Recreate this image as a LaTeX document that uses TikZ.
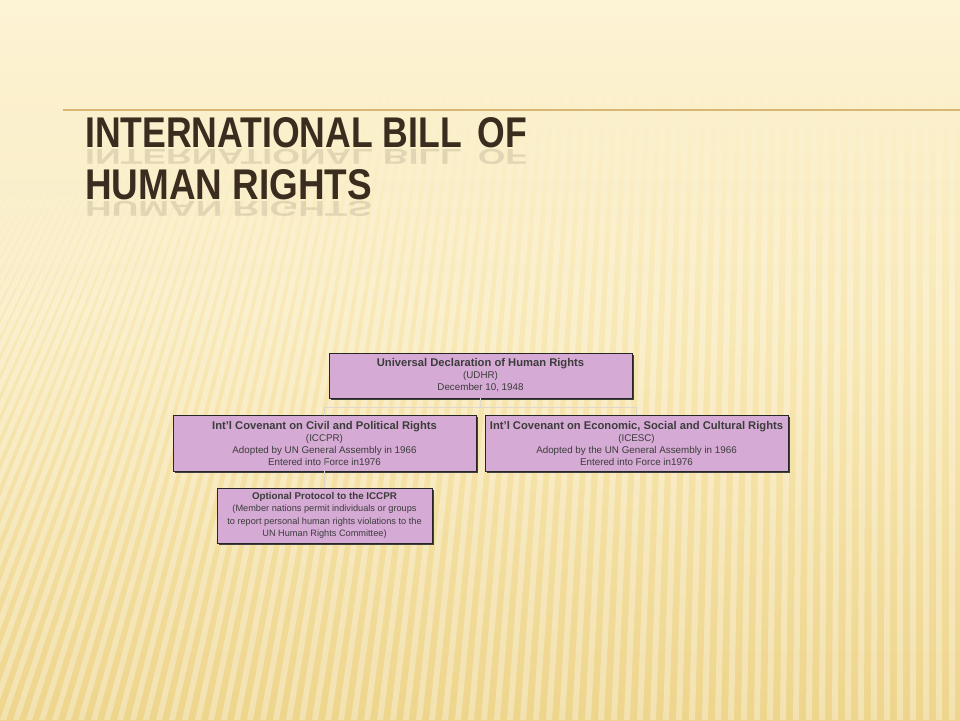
\documentclass[tikz,border=0pt]{standalone}
\usepackage{fontspec}
\setmainfont{Liberation Sans}
\usepackage{graphicx}
\usetikzlibrary{shadows,fadings}
\definecolor{bgtop}{RGB}{253,244,214}
\definecolor{bgmid}{RGB}{248,231,178}
\definecolor{bgbot}{RGB}{238,213,140}
\definecolor{boxfill}{RGB}{213,170,212}
\definecolor{boxtext}{RGB}{60,60,60}
\definecolor{titlecol}{RGB}{58,44,30}
\definecolor{rulecol}{RGB}{216,182,112}
\definecolor{linkcol}{RGB}{222,216,204}
\begin{document}
\begin{tikzpicture}[x=1pt,y=1pt,
  orgbox/.style={draw=black!85, line width=0.8pt, fill=boxfill, text=boxtext,
    align=center, inner sep=0pt, font=\fontsize{9.8}{12}\selectfont,
    drop shadow={shadow xshift=1.6pt, shadow yshift=-1.6pt, fill=black!75, opacity=1}},
  link/.style={draw=linkcol, line width=0.9pt},
  titletext/.style={anchor=base west, inner sep=0pt, text=titlecol},
  stripe/.style={fill=white, opacity=0.32},
]
\useasboundingbox (0,0) rectangle (960,720);
% background
\shade[top color=bgtop, bottom color=bgbot, middle color=bgmid] (0,0) rectangle (960,720);
\begin{scope}
\clip (0,0) rectangle (960,720);
\foreach \i in {-40,...,76}{
  \pgfmathsetmacro\xb{\i*13}
  \pgfmathsetmacro\sl{0.34*min(1.6,max(0,1-\xb/960))^2}
  \pgfmathsetmacro\xm{\xb + \sl*420}
  \pgfmathsetmacro\xt{\xb + \sl*640}
  \fill[stripe] (\xb,0) -- (\xb+6,0) -- (\xm+6,420) -- (\xm,420) -- cycle;
  \fill[stripe, path fading=north] (\xm,420) -- (\xm+6,420) -- (\xt+6,640) -- (\xt,640) -- cycle;
}
\end{scope}
% title rule
\draw[rulecol, line width=1.2pt] (63,610) -- (960,610);
% title
\node[titletext] (t1) at (85,572) {\resizebox{442pt}{30pt}{\bfseries\fontsize{40}{40}\selectfont INTERNATIONAL BILL\, OF}};
\node[titletext, yscale=-0.5, transform shape, opacity=0.13] (r1) at (85,570) {\resizebox{442pt}{30pt}{\bfseries\fontsize{40}{40}\selectfont INTERNATIONAL BILL\, OF}};
\node[titletext] (t2) at (85,520) {\resizebox{287pt}{30pt}{\bfseries\fontsize{40}{40}\selectfont HUMAN RIGHTS}};
\node[titletext, yscale=-0.5, transform shape, opacity=0.13] (r2) at (85,518) {\resizebox{287pt}{30pt}{\bfseries\fontsize{40}{40}\selectfont HUMAN RIGHTS}};
% boxes
\node[orgbox, minimum width=303pt, minimum height=45pt] (udhr) at (480.5,344.5)
  {{\bfseries\fontsize{11.2}{12}\selectfont Universal Declaration of Human Rights}\\(UDHR)\\December 10, 1948};
\node[orgbox, minimum width=303pt, minimum height=56pt] (iccpr) at (324.5,277)
  {{\bfseries\fontsize{11.2}{12}\selectfont Int'l Covenant on Civil and Political Rights}\\(ICCPR)\\Adopted by UN General Assembly in 1966\\Entered into Force in1976};
\node[orgbox, minimum width=303pt, minimum height=56pt] (icesc) at (636.5,277)
  {{\bfseries\fontsize{11.2}{12}\selectfont Int'l Covenant on Economic, Social and Cultural Rights}\\(ICESC)\\Adopted by the UN General Assembly in 1966\\Entered into Force in1976};
\node[orgbox, minimum width=215pt, minimum height=55pt, font=\fontsize{9.2}{12.4}\selectfont] (op) at (324.5,204.5)
  {{\bfseries\fontsize{9.8}{12.4}\selectfont Optional Protocol to the ICCPR}\\(Member nations permit individuals or groups\\to report personal human rights violations to the\\UN Human Rights Committee)};
% connectors
\coordinate (jn) at (480.5,313);
\coordinate (jl) at (324.5,313);
\coordinate (jr) at (636.5,313);
\draw[link] (udhr.south) -- (jn) -- (jl) -- (iccpr.north);
\draw[link] (jn) -- (jr) -- (icesc.north);
\draw[link] (iccpr.south) -- (op.north);
\draw[link, opacity=0.3] (iccpr.north) -- (iccpr.south);
\end{tikzpicture}
\end{document}
